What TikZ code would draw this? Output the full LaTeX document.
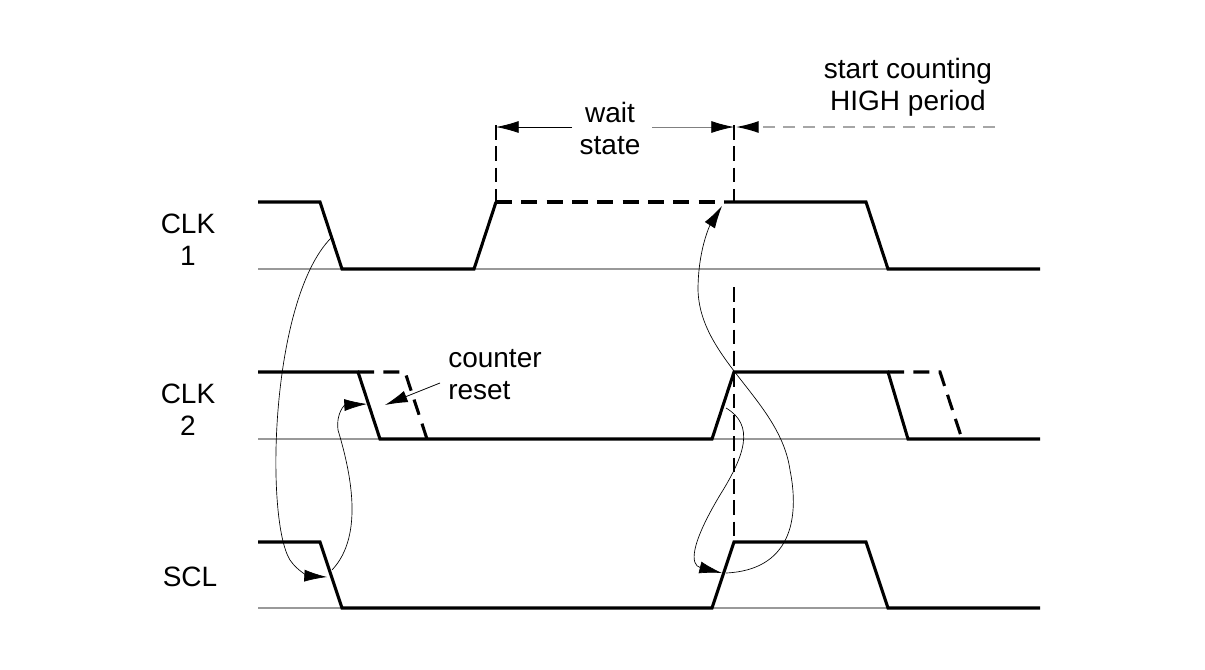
\documentclass[tikz,border=0pt]{standalone}
\usepackage{fontspec}
\setmainfont{Liberation Sans}
\usetikzlibrary{arrows.meta}
\begin{document}
\begin{tikzpicture}[x=0.75pt,y=-0.75pt,
  tip/.style={-{Latex[length=17pt,width=9pt]}},
  wave/.style={line width=2.3pt,line join=miter},
  dwave/.style={wave,dash pattern=on 12pt off 7pt},
  base/.style={gray!80,line width=0.8pt},
  vdash/.style={line width=1.2pt,dash pattern=on 11pt off 5pt},
  link/.style={line width=0.5pt,tip},
  lbl/.style={font=\fontsize{21}{24}\selectfont,align=center,inner sep=0pt}]
\useasboundingbox (0,0) rectangle (1205,669);
% baselines
\draw[base] (258,269) -- (1040,269);
\draw[base] (258,439) -- (1040,439);
\draw[base] (258,608) -- (1040,608);
% CLK1
\draw[wave] (258,202) -- (320,202) -- (342,269) -- (474,269) -- (496,202);
\draw[dwave] (496,202) -- (724,202);
\draw[wave] (724,202) -- (866,202) -- (888,269) -- (1040,269);
% CLK2
\draw[wave] (258,372) -- (358,372) -- (380,439) -- (712,439) -- (734,372) -- (888,372) -- (908,439) -- (1040,439);
\draw[dwave] (358,372) -- (405,372) -- (427,439);
\draw[dwave] (888,372) -- (940,372) -- (962,439);
% SCL
\draw[wave] (258,542) -- (320,542) -- (342,608) -- (712,608) -- (734,542) -- (866,542) -- (888,608) -- (1040,608);
% verticals
\draw[vdash] (496,125) -- (496,202);
\draw[vdash] (734,125) -- (734,202);
\draw[vdash] (734,287) -- (734,542);
% top arrows
\coordinate (wl) at (496,127);
\coordinate (wr) at (734,127);
\coordinate (hr) at (995,127);
\node[lbl] (ws) at (610,128) {wait\\state};
\node[lbl] (sc) at (908,87) {start counting\\HIGH period};
\draw[line width=0.6pt,tip] (572,127) -- (wl);
\draw[gray,line width=0.6pt,-{Latex[length=17pt,width=9pt,black]}] (652,127) -- (wr);
\draw[gray!70,line width=1pt,dash pattern=on 9pt off 6pt,-{Latex[length=17pt,width=9pt,black]}] (hr) -- (736,127);
% labels
\node[lbl] (c1) at (188,240) {CLK\\1};
\node[lbl] (c2) at (188,410) {CLK\\2};
\node[lbl] (s) at (190,577) {SCL};
\node[lbl,align=left,anchor=west] (cr) at (448,375) {counter\\reset};
% curves
\draw[line width=0.6pt,tip] (440,383) -- (385,405);
\draw[link] (331,238) .. controls (270,300) and (265,520) .. (290,560) .. controls (298,572) and (310,576) .. (327,577);
\draw[link] (332,570) .. controls (365,535) and (350,470) .. (338,430) .. controls (336,412) and (345,405) .. (367,404);
\draw[link] (726,408) .. controls (755,425) and (745,455) .. (720,495) .. controls (690,545) and (690,565) .. (722,573);
\draw[link] (726,573) .. controls (790,570) and (800,520) .. (790,470) .. controls (780,400) and (700,360) .. (698,290) .. controls (698,250) and (710,225) .. (722,206);
\end{tikzpicture}
\end{document}
